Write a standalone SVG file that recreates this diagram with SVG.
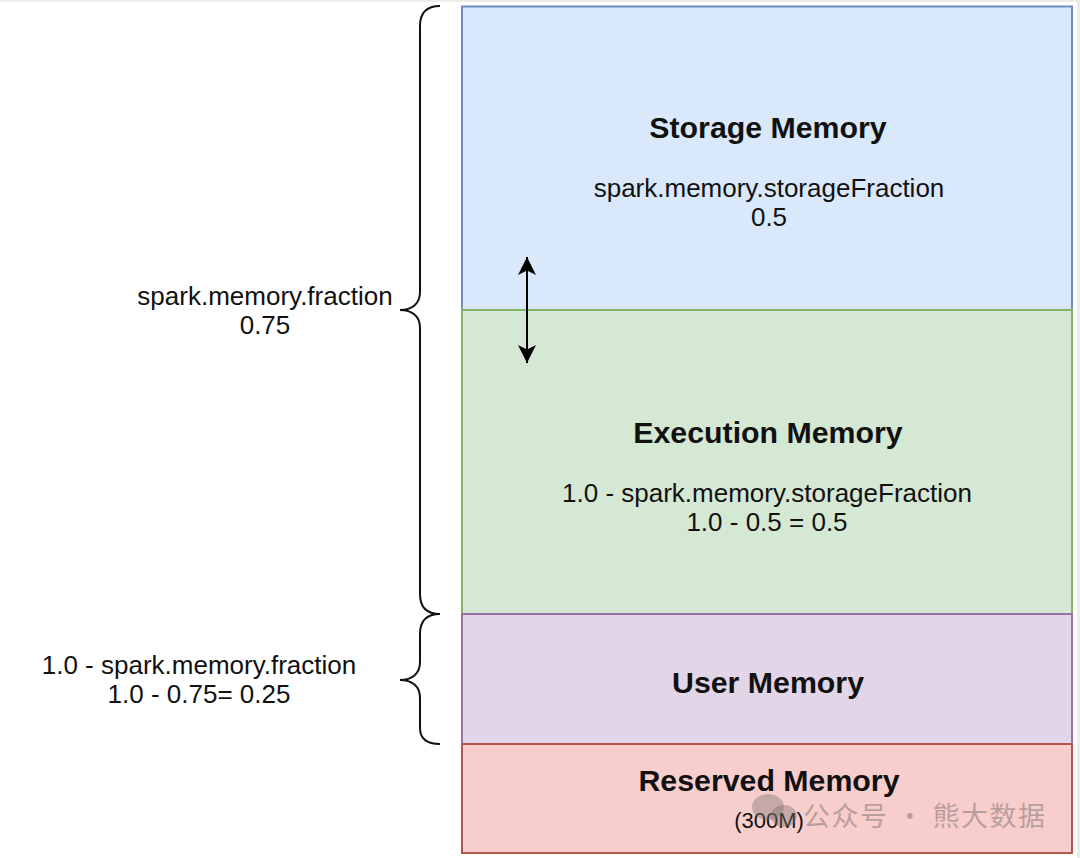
<svg xmlns="http://www.w3.org/2000/svg" width="1080" height="858" viewBox="0 0 1080 858">
<style>
  .t { font-family: "Liberation Sans", Arial, sans-serif; font-size: 26px; fill: #111; text-anchor: middle; }
  .b { font-family: "Liberation Sans", Arial, sans-serif; font-size: 30.3px; font-weight: bold; fill: #111; text-anchor: middle; }
  .brace { fill: none; stroke: #111; stroke-width: 2; }
  .wm { font-family: "Noto Sans CJK SC", "Liberation Sans", sans-serif; font-size: 27px; fill: #7a7070; opacity: 0.5; }
</style>
<defs>
  <marker id="ah" markerUnits="userSpaceOnUse" markerWidth="20" markerHeight="20" refX="18" refY="9" orient="auto-start-reverse">
    <path d="M0,0 L18,9 L0,18 L4.5,9 Z" fill="#000"/>
  </marker>
</defs>
<rect x="0" y="0" width="1080" height="858" fill="#fff"/>
<rect x="0" y="0" width="1080" height="2" fill="#ececec"/>
<rect x="1077" y="0" width="3" height="858" fill="#ececec"/>

<g id="storage">
  <rect x="462" y="6.5" width="610" height="303.5" fill="#dae8fc" stroke="#6c8ebf" stroke-width="2"/>
  <text class="b" x="768" y="138">Storage Memory</text>
  <text class="t" x="769" y="197">spark.memory.storageFraction</text>
  <text class="t" x="769" y="226">0.5</text>
</g>
<g id="execution">
  <rect x="462" y="310" width="610" height="304" fill="#d5e8d4" stroke="#82b366" stroke-width="2"/>
  <text class="b" x="768" y="443">Execution Memory</text>
  <text class="t" x="767" y="502">1.0 - spark.memory.storageFraction</text>
  <text class="t" x="767" y="531">1.0 - 0.5 = 0.5</text>
</g>
<g id="user">
  <rect x="462" y="614" width="610" height="130" fill="#e1d5e7" stroke="#9673a6" stroke-width="2"/>
  <text class="b" x="768" y="693">User Memory</text>
</g>
<g id="reserved">
  <rect x="462" y="744" width="610" height="109" fill="#f8cecc" stroke="#b85450" stroke-width="2"/>
  <text class="b" x="769" y="791">Reserved Memory</text>
  <text class="t" x="769" y="828" style="font-size:22px">(300M)</text>
</g>

<g id="label-fraction">
  <text class="t" x="265" y="305">spark.memory.fraction</text>
  <text class="t" x="265" y="334">0.75</text>
</g>
<g id="label-user-fraction">
  <text class="t" x="199" y="674">1.0 - spark.memory.fraction</text>
  <text class="t" x="199" y="703">1.0 - 0.75= 0.25</text>
</g>

<g id="connectors">
  <path class="brace" d="M440,6 C428,6 420,12 420,26 L420,292 C420,304 412,310 400,310 C412,310 420,316 420,328 L420,594 C420,608 428,614 440,614"/>
  <path class="brace" d="M440,614 C428,614 420,620 420,634 L420,662 C420,674 412,680 400,680 C412,680 420,686 420,698 L420,728 C420,740 428,744 440,744"/>
  <line x1="527" y1="257" x2="527" y2="363" stroke="#000" stroke-width="2" marker-start="url(#ah)" marker-end="url(#ah)"/>
</g>

<g id="watermark">
  <ellipse cx="768" cy="807" rx="16" ry="13" fill="#7a7070" opacity="0.4"/>
  <ellipse cx="784" cy="816" rx="13" ry="11" fill="#7a7070" opacity="0.4"/>
  <text class="wm" x="803" y="826" textLength="242" lengthAdjust="spacing">公众号 · 熊大数据</text>
</g>
</svg>
